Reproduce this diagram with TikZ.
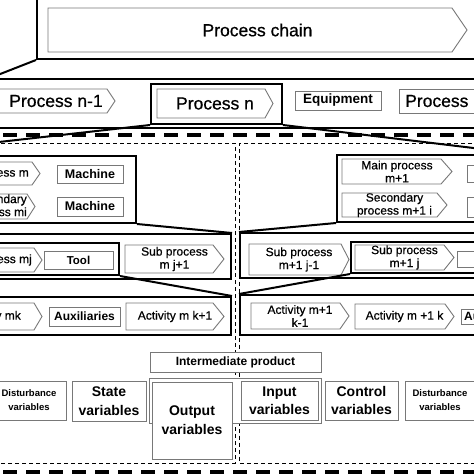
\documentclass[tikz,border=0pt]{standalone}
\usepackage{fontspec}
\setmainfont{Liberation Sans}
\newfontfamily\medfont[FakeBold=0.7]{Liberation Sans}
\newfontfamily\smfont[FakeBold=0.5]{Liberation Sans}
\definecolor{edge}{HTML}{787878}
\tikzset{
 cont/.style={draw=black, line width=2pt, fill=white, inner sep=0pt},
 gbox/.style={draw=edge, line width=1pt, fill=white, inner sep=0pt},
 sigp/.style={draw=edge, line width=0.9pt, fill=white, line join=miter},
 slant/.style={draw=black, line width=2pt},
 thickdash/.style={draw=black, line width=3.5pt, dash pattern=on 14pt off 9pt},
 thindash/.style={draw=black, line width=1pt, dash pattern=on 4pt off 3pt},
 big/.style={font=\medfont\fontsize{17.5}{20}\selectfont, inner sep=0pt},
 lab/.style={font=\smfont\fontsize{12}{13}\selectfont, align=center, inner sep=0pt},
 blab/.style={font=\bfseries\fontsize{12.5}{14}\selectfont, align=center},
 vlab/.style={font=\bfseries\fontsize{14}{18.5}\selectfont, align=center},
 dlab/.style={font=\bfseries\fontsize{9.5}{14}\selectfont, align=center},
}
% rectangle node: [style] x1 y1 x2 y2 name text
\newcommand\rbox[7][gbox]{\node[#1, minimum width={(#4)-(#2)}, minimum height={(#5)-(#3)}] (#6) at ({((#2)+(#4))/2},{((#3)+(#5))/2}) {#7};}
% signal arrow: [text style] name x1 y1 xbody y2 xtip text
\newcommand\sig[8][lab]{\draw[sigp] (#3,#4) -- (#5,#4) -- (#7,{((#4)+(#6))/2}) -- (#5,#6) -- (#3,#6) -- cycle;
 \node[#1] (#2) at ({((#3)+(#7))/2},{((#4)+(#6))/2}) {#8};}
\begin{document}
\begin{tikzpicture}[x=1pt,y=-1pt]
\useasboundingbox (0,0) rectangle (474,474);
\fill[white] (0,0) rectangle (474,474);
% dashed frames
\draw[thickdash] (-20,135) -- (500,135);
\draw[thickdash] (-20,472) -- (500,472);
\draw[thindash] (-20,143) -- (235,143) -- (235,463) -- (-20,463);
\draw[thindash] (500,143) -- (239.5,143) -- (239.5,463) -- (500,463);
% top: process chain
\rbox[cont]{37}{-10}{490}{59}{chainbox}{}
\sig[big]{chain}{48}{8}{452}{52}{467}{Process chain}
\rbox[cont]{-10}{79}{490}{128}{rowbox}{}
\coordinate (c1) at (-10,78);
\draw[slant] (chainbox.south west) -- (c1);
\sig[big]{pnm1}{-3}{89}{107}{113}{115}{Process n-1}
\rbox[cont]{151}{84}{282}{124}{pnbox}{}
\sig[big]{pn}{157}{89}{265}{118}{273}{Process n}
\rbox{295}{91}{381}{110}{equip}{\bfseries\fontsize{13.5}{14}\selectfont Equipment}
\draw[sigp] (399,89) -- (520,89) -- (520,113) -- (399,113) -- cycle;
\node[big, anchor=west] (pnp1) at (405,101) {Process n+1};
\coordinate (c2) at (-10,143);
\coordinate (c3) at (490,150);
\draw[slant] (pnbox.south west) -- (c2);
\draw[slant] (pnbox.south east) -- (c3);
% left: main processes
\rbox[cont]{-10}{156}{136}{223}{lmain}{}
\draw[sigp] (-20,162) -- (32,162) -- (40,173.5) -- (32,185) -- (-20,185) -- cycle;
\node[lab, anchor=east] (mpm) at (29,173.5) {Main process m};
\rbox{57}{165}{123}{183}{mach1}{\bfseries\fontsize{12.5}{14}\selectfont Machine}
\draw[sigp] (-20,194) -- (27,194) -- (35,206.5) -- (27,219) -- (-20,219) -- cycle;
\node[lab, anchor=east, align=right] (spm) at (27,206.5) {Secondary\\process mi};
\rbox{57}{197}{123}{216}{mach2}{\bfseries\fontsize{12.5}{14}\selectfont Machine}
% left: sub processes
\rbox[cont]{-10}{234}{231}{279}{lsub}{}
\draw[slant] (lmain.south east) -- (lsub.north east);
\rbox[cont]{-10}{243}{119}{275}{lsubin}{}
\draw[sigp] (-20,248) -- (34,248) -- (42,260) -- (34,272) -- (-20,272) -- cycle;
\node[lab, anchor=east] (sbm) at (32,260) {Sub process mj};
\rbox{44}{251}{113}{269}{tool}{\bfseries\fontsize{11.5}{14}\selectfont Tool}
\sig{sbm1}{125}{245}{213}{273}{224}{Sub process\\m j+1}
% left: activities
\rbox[cont]{-10}{297}{231}{335}{lact}{}
\draw[slant] (lsubin.south east) -- (lact.north east);
\draw[sigp] (-20,303) -- (34,303) -- (42,316.5) -- (34,330) -- (-20,330) -- cycle;
\node[lab, anchor=east] (amk) at (21,316.5) {Activity mk};
\rbox{49}{307}{120}{326}{aux}{\bfseries\fontsize{12}{14}\selectfont Auxiliaries}
\sig{amk1}{126}{303}{213}{330}{224}{Activity m k+1}
% right: main processes
\rbox[cont]{337}{155}{490}{222}{rmain}{}
\sig{mp1}{342}{159}{441}{184}{452}{Main process\\m+1}
\rbox{467}{165}{540}{182}{mach3}{}
\sig{sp1}{342}{193}{437}{217}{447}{Secondary\\process m+1 i}
\rbox{467}{197}{540}{217}{mach4}{}
% right: sub processes
\rbox[cont]{240}{233}{490}{278}{rsub}{}
\draw[slant] (rmain.south west) -- (rsub.north west);
\sig{sbj1}{249}{244}{341}{275}{349}{Sub process\\m+1 j-1}
\rbox[cont]{351}{242}{490}{273}{rsubin}{}
\sig{sbj}{355}{245}{444}{270}{454}{Sub process\\m+1 j}
\rbox{457}{251}{520}{267}{tool2}{}
% right: activities
\rbox[cont]{240}{295}{490}{335}{ract}{}
\draw[slant] (rsubin.south west) -- (ract.north west);
\sig{ak1}{251}{303}{340}{329}{349}{Activity m+1\\k-1}
\sig{ak}{355}{304}{445}{329}{454}{Activity m +1 k}
\draw[gbox] (461,309) rectangle (540,324);
\node[anchor=west, font=\bfseries\fontsize{12}{14}\selectfont, inner sep=0pt] (aux2) at (464,316.5) {Auxiliaries};
% bottom: variables
\rbox{150}{352}{321}{372}{inter}{\bfseries\fontsize{12}{14}\selectfont Intermediate product}
\rbox{149}{378}{321}{423}{iobox}{}
\rbox{152}{382}{232}{459}{outv}{}
\node[vlab] (outt) at (192,420) {Output\\variables};
\rbox{241}{381}{318}{420}{inv}{}
\node[vlab] (int) at (279.5,400.5) {Input\\variables};
\rbox{72}{381}{146}{421}{statev}{}
\node[vlab] (statet) at (109,401) {State\\variables};
\rbox{325}{381}{398}{420}{ctrlv}{}
\node[vlab] (ctrlt) at (361.5,400.5) {Control\\variables};
\rbox{-10}{381}{66}{420}{dist1}{}
\node[dlab] (dist1t) at (29,400.5) {Disturbance\\variables};
\rbox{405}{381}{500}{420}{dist2}{}
\node[dlab] (dist2t) at (440,400.5) {Disturbance\\variables};
\end{tikzpicture}
\end{document}
